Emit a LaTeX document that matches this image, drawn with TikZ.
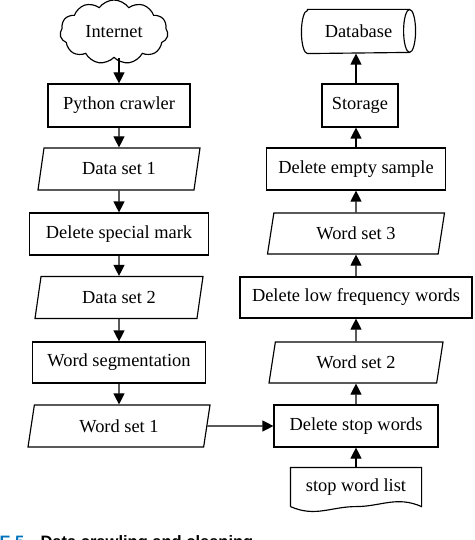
\documentclass[tikz,border=0pt]{standalone}
\usepackage{fontspec}
\setmainfont{Liberation Serif}
\newfontfamily\capfont{Liberation Sans}
\usetikzlibrary{shapes.geometric,shapes.symbols,arrows.meta}
\definecolor{capblue}{RGB}{0,114,188}
\begin{document}
\begin{tikzpicture}[x=1pt,y=-1pt, line width=1.15pt,
  every node/.style={font=\fontsize{18.4}{22}\selectfont, inner sep=0pt},
  procbox/.style={draw, rectangle, minimum height=42pt},
  iobox/.style={draw, trapezium, trapezium left angle=64, trapezium right angle=116,
    trapezium stretches body, minimum height=42pt},
  arr/.style={-{Triangle[width=11pt,length=11pt]}},
  captext/.style={anchor=base west, font=\capfont\bfseries\fontsize{16.5}{19}\selectfont}]
\useasboundingbox (0,0) rectangle (474,540);
% left column
\node[cloud, draw, cloud puffs=11, cloud puff arc=110, aspect=1.7,
  minimum width=108pt, minimum height=64pt] (net) at (114,32) {Internet};
\node[procbox, minimum width=142pt, minimum height=43pt] (py) at (119,105.5) {Python crawler};
\node[iobox, minimum width=162pt] (ds1) at (119,169) {Data set 1};
\node[procbox, minimum width=179pt] (dsm) at (119,234) {Delete special mark};
\node[iobox, minimum width=168pt] (ds2) at (119,297.5) {Data set 2};
\node[procbox, minimum width=173pt, minimum height=41pt] (wseg) at (119,362.5) {Word segmentation};
\node[iobox, minimum width=182pt] (ws1) at (119,426) {Word set 1};
% right column
\node[minimum width=113pt, minimum height=43pt] (db) at (358.5,31.5) {Database};
\draw ([xshift=6pt]db.north west) -- ([xshift=-6pt]db.north east)
  arc[start angle=90, end angle=-90, x radius=6pt, y radius=21.5pt]
  -- ([xshift=6pt]db.south west)
  arc[start angle=270, end angle=90, x radius=6pt, y radius=21.5pt] -- cycle;
\draw ([xshift=-6pt]db.north east) arc[start angle=90, end angle=270, x radius=6pt, y radius=21.5pt];
\node[procbox, minimum width=76pt, minimum height=43pt] (st) at (360,105.5) {Storage};
\node[procbox, minimum width=179pt] (es) at (356,169) {Delete empty sample};
\node[iobox, minimum width=177pt, minimum height=41pt] (ws3) at (356,233.5) {Word set 3};
\node[procbox, minimum width=232pt, minimum height=41pt] (lf) at (356,297.5) {Delete low frequency words};
\node[iobox, minimum width=174pt, minimum height=41pt] (ws2) at (356,362.5) {Word set 2};
\node[procbox, minimum width=164pt] (dsw) at (356,426) {Delete stop words};
\node[minimum width=130pt, minimum height=38pt] (swl) at (356,487) {stop word list};
\draw (swl.south west) -- (swl.north west) -- (swl.north east) -- (swl.south east)
  .. controls +(-25,-11) and +(25,0) .. (swl.south)
  .. controls +(-25,0) and +(25,11) .. (swl.south west);
% connectors
\draw[arr] (py.north |- net.south) -- (py.north);
\draw[arr] (py.south) -- (ds1.north);
\draw[arr] (ds1.south) -- (dsm.north);
\draw[arr] (dsm.south) -- (ds2.north);
\draw[arr] (ds2.south) -- (wseg.north);
\draw[arr] (wseg.south) -- (ws1.north);
\draw[arr] (ws1.east) -- (dsw.west);
\draw[arr] (swl.north) -- (dsw.south);
\draw[arr] (dsw.north) -- (ws2.south);
\draw[arr] (ws2.north) -- (lf.south);
\draw[arr] (lf.north) -- (ws3.south);
\draw[arr] (ws3.north) -- (es.south);
\draw[arr] (es.north) -- (es.north |- st.south);
\draw[arr] (es.north |- st.north) -- (es.north |- db.south);
% caption (cropped, as in the reference)
\node[captext, text=capblue] (capnum) at (-1,547) {E 5};
\node[captext] (cap) at (40,547) {Data crawling and cleaning};
\end{tikzpicture}
\end{document}
